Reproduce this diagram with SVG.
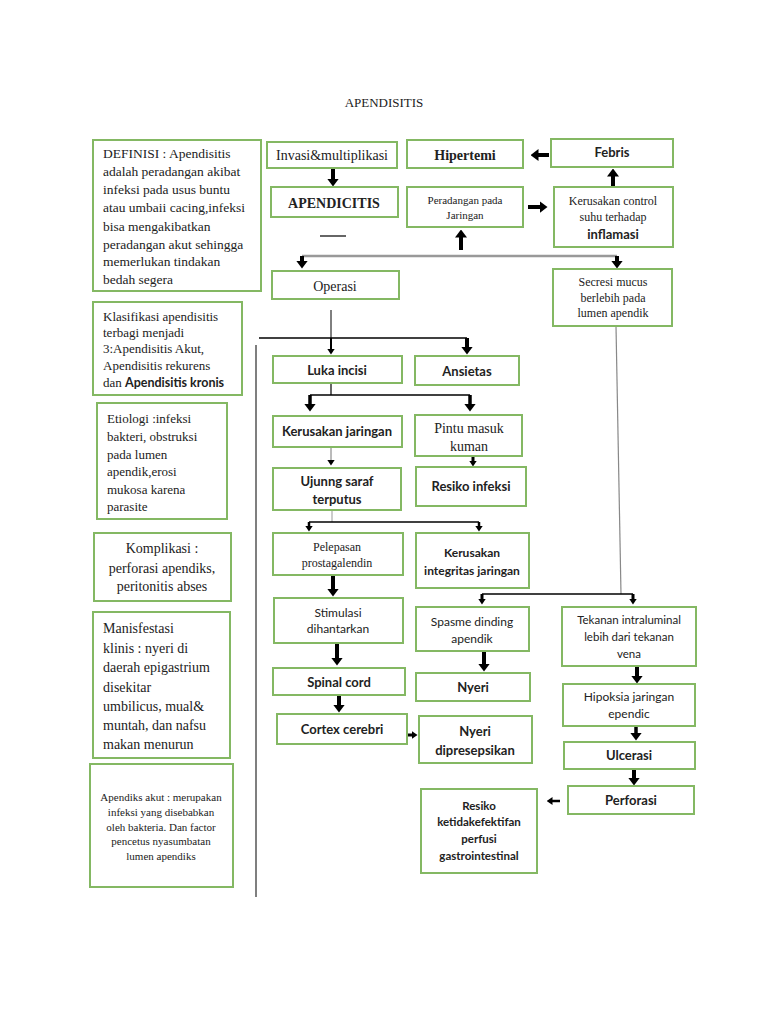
<svg xmlns="http://www.w3.org/2000/svg" width="768" height="1024" viewBox="0 0 768 1024">
<style>
.box{fill:#fff;stroke:#84b863;stroke-width:2}
.sf{font-family:"Liberation Serif",serif;fill:#222}
.ss{font-family:Lato,"Liberation Sans",sans-serif;fill:#222}
.b{font-weight:bold}
.c{text-anchor:middle}
.ln{stroke:#000;fill:none}
.gr{stroke:#999;fill:none}
</style>
<defs>
<marker id="hb" viewBox="0 0 8 12" markerWidth="8" markerHeight="12" refX="0.5" refY="6" orient="auto" markerUnits="userSpaceOnUse"><path d="M0,0L8,6L0,12z" fill="#000"/></marker>
<marker id="hs" viewBox="0 0 6 8" markerWidth="6" markerHeight="8" refX="0.5" refY="4" orient="auto" markerUnits="userSpaceOnUse"><path d="M0,0L6,4L0,8z" fill="#000"/></marker>
</defs>
<rect width="768" height="1024" fill="#fff"/>
<text class="sf c" x="384" y="107" font-size="13" fill="#333">APENDISITIS</text>

<g id="connectors">
<line class="ln" x1="333" y1="169" x2="333" y2="179" stroke-width="4" marker-end="url(#hb)"/>
<line class="ln" x1="549" y1="155" x2="538" y2="155" stroke-width="4" marker-end="url(#hb)"/>
<line class="ln" x1="528" y1="207" x2="540" y2="207" stroke-width="4" marker-end="url(#hb)"/>
<line class="ln" x1="613" y1="186" x2="613" y2="176" stroke-width="4" marker-end="url(#hb)"/>
<line class="ln" x1="320" y1="236" x2="346" y2="236" stroke-width="1.2"/>
<line class="gr" x1="302" y1="256" x2="617" y2="256" stroke-width="2.5"/>
<line class="ln" x1="461" y1="250" x2="461" y2="237" stroke-width="4" marker-end="url(#hb)"/>
<line class="ln" x1="302" y1="256" x2="302" y2="261" stroke-width="4" marker-end="url(#hb)"/>
<line class="ln" x1="617" y1="256" x2="617" y2="261" stroke-width="4" marker-end="url(#hb)"/>
<line class="ln" x1="331" y1="310" x2="331" y2="338" stroke-width="1"/>
<line class="ln" x1="259" y1="338" x2="467" y2="338" stroke-width="1.5"/>
<line class="ln" x1="331" y1="338" x2="331" y2="349" stroke-width="2" marker-end="url(#hs)"/>
<line class="ln" x1="467" y1="338" x2="467" y2="347" stroke-width="4" marker-end="url(#hb)"/>
<line x1="256" y1="345" x2="256" y2="897" stroke="#555" stroke-width="1.5"/>
<line class="ln" x1="331" y1="383" x2="331" y2="395" stroke-width="1.2"/>
<line class="ln" x1="310" y1="395" x2="470" y2="395" stroke-width="1.5"/>
<line class="ln" x1="310" y1="395" x2="310" y2="404" stroke-width="3.5" marker-end="url(#hb)"/>
<line class="ln" x1="470" y1="395" x2="470" y2="404" stroke-width="3.5" marker-end="url(#hb)"/>
<line x1="331" y1="447" x2="331" y2="460" stroke="#777" stroke-width="1" marker-end="url(#hs)"/>
<line class="ln" x1="473" y1="456" x2="473" y2="461" stroke-width="3" marker-end="url(#hs)"/>
<line class="gr" x1="332" y1="510" x2="332" y2="522" stroke-width="1"/>
<line class="ln" x1="309" y1="522" x2="479" y2="522" stroke-width="1.5"/>
<line class="ln" x1="309" y1="522" x2="309" y2="526" stroke-width="2.5" marker-end="url(#hs)"/>
<line class="ln" x1="479" y1="522" x2="479" y2="526" stroke-width="2.5" marker-end="url(#hs)"/>
<line class="ln" x1="333" y1="576" x2="333" y2="589" stroke-width="4" marker-end="url(#hb)"/>
<line x1="616" y1="326" x2="621" y2="594" stroke="#888" stroke-width="1.2"/>
<line class="ln" x1="482" y1="594" x2="633" y2="594" stroke-width="1.5"/>
<line class="ln" x1="482" y1="594" x2="482" y2="599" stroke-width="3" marker-end="url(#hs)"/>
<line class="ln" x1="633" y1="594" x2="633" y2="599" stroke-width="3" marker-end="url(#hs)"/>
<line class="ln" x1="484" y1="651" x2="484" y2="664" stroke-width="4" marker-end="url(#hb)"/>
<line class="ln" x1="337" y1="643" x2="337" y2="658" stroke-width="4" marker-end="url(#hb)"/>
<line class="ln" x1="339" y1="695" x2="339" y2="705" stroke-width="4" marker-end="url(#hb)"/>
<line class="ln" x1="407" y1="735" x2="412" y2="735" stroke-width="3" marker-end="url(#hs)"/>
<line class="ln" x1="637" y1="666" x2="637" y2="676" stroke-width="4" marker-end="url(#hb)"/>
<line class="ln" x1="636" y1="727" x2="636" y2="733" stroke-width="3.5" marker-end="url(#hb)"/>
<line class="ln" x1="634" y1="769" x2="634" y2="778" stroke-width="4" marker-end="url(#hb)"/>
<line class="ln" x1="560" y1="801" x2="552" y2="801" stroke-width="2.5" marker-end="url(#hs)"/>
</g>

<g id="definisi"><rect class="box" x="93" y="140" width="168" height="151"/>
<text class="sf" font-size="13.5" x="103"><tspan x="103" y="158">DEFINISI : Apendisitis</tspan><tspan x="103" y="176">adalah peradangan akibat</tspan><tspan x="103" y="194">infeksi pada usus buntu</tspan><tspan x="103" y="212">atau umbaii  cacing,infeksi</tspan><tspan x="103" y="231">bisa mengakibatkan</tspan><tspan x="103" y="249">peradangan akut sehingga</tspan><tspan x="103" y="266">memerlukan tindakan</tspan><tspan x="103" y="284">bedah segera</tspan></text></g>

<g id="klasifikasi"><rect class="box" x="93" y="302" width="149" height="93"/>
<text class="sf" font-size="13"><tspan x="103" y="321">Klasifikasi apendisitis</tspan><tspan x="103" y="337">terbagi menjadi</tspan><tspan x="103" y="353">3:Apendisitis Akut,</tspan><tspan x="103" y="370">Apendisitis rekurens</tspan><tspan x="103" y="387">dan <tspan class="ss b" font-size="12.5">Apendisitis kronis</tspan></tspan></text></g>

<g id="etiologi"><rect class="box" x="97" y="403" width="130" height="116"/>
<text class="sf" font-size="13"><tspan x="107" y="423">Etiologi :infeksi</tspan><tspan x="107" y="441">bakteri, obstruksi</tspan><tspan x="107" y="459">pada lumen</tspan><tspan x="107" y="476">apendik,erosi</tspan><tspan x="107" y="494">mukosa karena</tspan><tspan x="107" y="511">parasite</tspan></text></g>

<g id="komplikasi"><rect class="box" x="94" y="533" width="137" height="68"/>
<text class="sf c" font-size="14"><tspan x="162" y="553">Komplikasi :</tspan><tspan x="162" y="573">perforasi apendiks,</tspan><tspan x="162" y="591">peritonitis abses</tspan></text></g>

<g id="manifestasi"><rect class="box" x="93" y="612" width="137" height="146"/>
<text class="sf" font-size="14"><tspan x="103" y="633">Manisfestasi</tspan><tspan x="103" y="653">klinis : nyeri di</tspan><tspan x="103" y="672">daerah epigastrium</tspan><tspan x="103" y="692">disekitar</tspan><tspan x="103" y="711">umbilicus, mual&amp;</tspan><tspan x="103" y="730">muntah, dan nafsu</tspan><tspan x="103" y="749">makan menurun</tspan></text></g>

<g id="apendiks-akut"><rect class="box" x="90" y="764" width="143" height="123"/>
<text class="sf c" font-size="11"><tspan x="161" y="801">Apendiks akut : merupakan</tspan><tspan x="161" y="816">infeksi yang disebabkan</tspan><tspan x="161" y="831">oleh bakteria. Dan factor</tspan><tspan x="161" y="845">pencetus  nyasumbatan</tspan><tspan x="161" y="860">lumen apendiks</tspan></text></g>

<g id="invasi"><rect class="box" x="267" y="142" width="130" height="26"/><text class="sf c" font-size="14" x="332" y="160">Invasi&amp;multiplikasi</text></g>
<g id="apendicitis"><rect class="box" x="271" y="187" width="127" height="30"/><text class="sf c b" font-size="14" x="334" y="208">APENDICITIS</text></g>
<g id="operasi"><rect class="box" x="272" y="271" width="127" height="28"/><text class="sf c" font-size="14" x="335" y="291">Operasi</text></g>
<g id="hipertemi"><rect class="box" x="407" y="140" width="116" height="28"/><text class="sf c b" font-size="14" x="465" y="160">Hipertemi</text></g>
<g id="febris"><rect class="box" x="551" y="139" width="122" height="28"/><text class="ss c b" font-size="13" x="612" y="157">Febris</text></g>
<g id="peradangan"><rect class="box" x="407" y="187" width="116" height="40"/><text class="sf c" font-size="11"><tspan x="465" y="204">Peradangan pada</tspan><tspan x="465" y="219">Jaringan</tspan></text></g>
<g id="kerusakan-control"><rect class="box" x="554" y="187" width="119" height="60"/><text class="sf c" font-size="12"><tspan x="613" y="205">Kerusakan control</tspan><tspan x="613" y="221">suhu terhadap</tspan></text><text class="ss c b" font-size="13" x="613" y="239">inflamasi</text></g>
<g id="secresi"><rect class="box" x="553" y="269" width="119" height="57"/><text class="sf c" font-size="12"><tspan x="613" y="286">Secresi mucus</tspan><tspan x="613" y="302">berlebih pada</tspan><tspan x="613" y="317">lumen apendik</tspan></text></g>
<g id="luka"><rect class="box" x="273" y="356" width="129" height="27"/><text class="ss c b" font-size="13" x="337" y="375">Luka incisi</text></g>
<g id="ansietas"><rect class="box" x="415" y="356" width="104" height="29"/><text class="ss c b" font-size="13" x="467" y="376">Ansietas</text></g>
<g id="kerusakan-jaringan"><rect class="box" x="273" y="416" width="129" height="31"/><text class="ss c b" font-size="13" x="337" y="436">Kerusakan jaringan</text></g>
<g id="pintu"><rect class="box" x="415" y="415" width="107" height="41"/><text class="sf c" font-size="14"><tspan x="469" y="433">Pintu masuk</tspan><tspan x="469" y="451">kuman</tspan></text></g>
<g id="ujunng"><rect class="box" x="273" y="468" width="128" height="42"/><text class="ss c b" font-size="13"><tspan x="337" y="486">Ujunng saraf</tspan><tspan x="337" y="504">terputus</tspan></text></g>
<g id="resiko-infeksi"><rect class="box" x="416" y="467" width="110" height="39"/><text class="ss c b" font-size="13" x="471" y="491">Resiko infeksi</text></g>
<g id="pelepasan"><rect class="box" x="273" y="533" width="130" height="42"/><text class="sf c" font-size="12"><tspan x="337" y="551">Pelepasan</tspan><tspan x="337" y="567">prostagalendin</tspan></text></g>
<g id="integritas"><rect class="box" x="416" y="533" width="113" height="55"/><text class="ss c b" font-size="12"><tspan x="472" y="557">Kerusakan</tspan><tspan x="472" y="575">integritas jaringan</tspan></text></g>
<g id="stimulasi"><rect class="box" x="274" y="598" width="129" height="45"/><text class="ss c" font-size="12"><tspan x="338" y="617">Stimulasi</tspan><tspan x="338" y="633">dihantarkan</tspan></text></g>
<g id="spinal"><rect class="box" x="273" y="668" width="132" height="27"/><text class="ss c b" font-size="13" x="339" y="687">Spinal cord</text></g>
<g id="cortex"><rect class="box" x="277" y="714" width="130" height="30"/><text class="ss c b" font-size="13" x="342" y="734">Cortex cerebri</text></g>
<g id="nyeri-dipresepsikan"><rect class="box" x="419" y="716" width="113" height="47"/><text class="ss c b" font-size="13"><tspan x="475" y="736">Nyeri</tspan><tspan x="475" y="755">dipresepsikan</tspan></text></g>
<g id="spasme"><rect class="box" x="416" y="607" width="113" height="44"/><text class="ss c" font-size="12"><tspan x="472" y="626">Spasme dinding</tspan><tspan x="472" y="643">apendik</tspan></text></g>
<g id="nyeri"><rect class="box" x="416" y="673" width="114" height="28"/><text class="ss c b" font-size="13" x="473" y="692">Nyeri</text></g>
<g id="tekanan"><rect class="box" x="562" y="607" width="134" height="59"/><text class="ss c" font-size="11.5"><tspan x="629" y="624">Tekanan intraluminal</tspan><tspan x="629" y="641">lebih dari tekanan</tspan><tspan x="629" y="658">vena</tspan></text></g>
<g id="hipoksia"><rect class="box" x="563" y="684" width="132" height="42"/><text class="ss c" font-size="12"><tspan x="629" y="701">Hipoksia jaringan</tspan><tspan x="629" y="718">ependic</tspan></text></g>
<g id="ulcerasi"><rect class="box" x="564" y="742" width="131" height="27"/><text class="ss c b" font-size="13" x="629" y="760">Ulcerasi</text></g>
<g id="perforasi"><rect class="box" x="568" y="786" width="126" height="28"/><text class="ss c b" font-size="13" x="631" y="805">Perforasi</text></g>
<g id="resiko-perfusi"><rect class="box" x="421" y="789" width="116" height="84"/><text class="ss c b" font-size="11.5"><tspan x="479" y="810">Resiko</tspan><tspan x="479" y="826">ketidakefektifan</tspan><tspan x="479" y="843">perfusi</tspan><tspan x="479" y="860">gastrointestinal</tspan></text></g>
</svg>
